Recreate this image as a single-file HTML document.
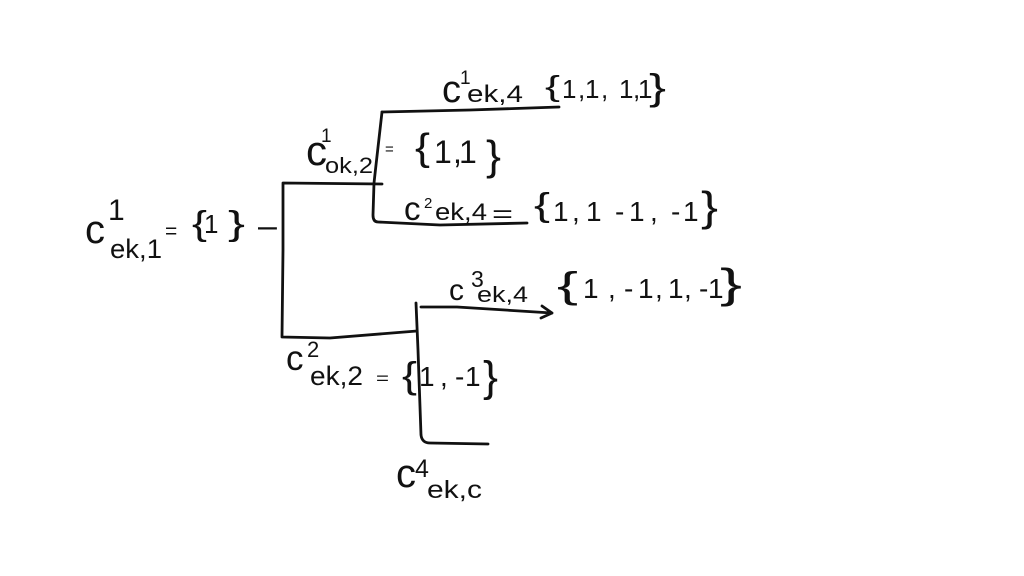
<!DOCTYPE html>
<html><head><meta charset="utf-8"><style>
html,body{margin:0;padding:0;background:#fff}
svg{display:block}
text{font-family:"Liberation Sans",sans-serif;fill:#111}
path{fill:none;stroke:#111;stroke-width:2.8;stroke-linecap:round;stroke-linejoin:round}
</style></head><body>
<svg width="1024" height="576" viewBox="0 0 1024 576" xmlns="http://www.w3.org/2000/svg">
<rect width="1024" height="576" fill="#fff" style="stroke:none"/>
<path d="M382 112 L470 110 L559 107"/>
<path d="M382 112 L376 165 L374 183 L373 215 Q373 222 378 222 L440 225 L527 223"/>
<path d="M382 184 L283 183 L283 250 L282 337 L330 338 L417 331"/>
<path d="M416 303 L418 350 L421 435 Q422 443 430 443 L488 444"/>
<path d="M421 307 L457 307 L552 313 M542 306 L552 313 L541 318"/>

<text x="85" y="243" font-size="40">c</text>
<text x="108" y="220" font-size="30">1</text>
<text x="110" y="258" font-size="27" textLength="52" lengthAdjust="spacingAndGlyphs">ek,1</text>
<text x="165" y="238" font-size="21">=</text>
<text x="192" y="235" font-size="34" textLength="15" lengthAdjust="spacingAndGlyphs">{</text>
<text x="204" y="233" font-size="26">1</text>
<text x="228" y="235" font-size="34" textLength="17" lengthAdjust="spacingAndGlyphs">}</text>
<text x="258" y="237" font-size="34">–</text>

<text x="442" y="102" font-size="38">c</text>
<text x="460" y="84" font-size="19">1</text>
<text x="467" y="102" font-size="24" textLength="56" lengthAdjust="spacingAndGlyphs">ek,4</text>
<text x="545" y="96" font-size="29" textLength="15" lengthAdjust="spacingAndGlyphs">{</text>
<text x="562 578 585 601 619 633 638" y="98" font-size="26">1,1,1,1</text>
<text x="649" y="100" font-size="37" textLength="17" lengthAdjust="spacingAndGlyphs">}</text>

<text x="306" y="165" font-size="42">c</text>
<text x="321" y="142" font-size="19">1</text>
<text x="325" y="173" font-size="22" textLength="48" lengthAdjust="spacingAndGlyphs">ok,2</text>
<text x="385" y="154" font-size="15">=</text>
<text x="415" y="160" font-size="38" textLength="15" lengthAdjust="spacingAndGlyphs">{</text>
<text x="434 453 459" y="163" font-size="32">1,1</text>
<text x="486" y="170" font-size="42" textLength="15" lengthAdjust="spacingAndGlyphs">}</text>

<text x="404" y="220" font-size="33">c</text>
<text x="424" y="208" font-size="15">2</text>
<text x="435" y="220" font-size="24" textLength="52" lengthAdjust="spacingAndGlyphs">ek,4</text>
<text x="492" y="222" font-size="24" textLength="21" lengthAdjust="spacingAndGlyphs">=</text>
<text x="534" y="216" font-size="33" textLength="16" lengthAdjust="spacingAndGlyphs">{</text>
<text x="553 572 586 615 629 650 671 683" y="221" font-size="28">1,1-1,-1</text>
<text x="701" y="221" font-size="42" textLength="17" lengthAdjust="spacingAndGlyphs">}</text>

<text x="449" y="300" font-size="30">c</text>
<text x="471" y="287" font-size="23">3</text>
<text x="477" y="302" font-size="22" textLength="51" lengthAdjust="spacingAndGlyphs">ek,4</text>
<text x="557" y="298" font-size="37" textLength="21" lengthAdjust="spacingAndGlyphs">{</text>
<text x="583 608 624 638 655 668 684 699 708" y="298" font-size="28">1,-1,1,-1</text>
<text x="720" y="298" font-size="42" textLength="22" lengthAdjust="spacingAndGlyphs">}</text>

<text x="286" y="370" font-size="35">c</text>
<text x="307" y="357" font-size="22">2</text>
<text x="310" y="385" font-size="27" textLength="53" lengthAdjust="spacingAndGlyphs">ek,2</text>
<text x="376" y="384" font-size="17" textLength="13" lengthAdjust="spacingAndGlyphs">=</text>
<text x="402" y="388" font-size="37" textLength="15" lengthAdjust="spacingAndGlyphs">{</text>
<text x="419 440 455 465" y="386" font-size="28">1,-1</text>
<text x="483" y="391" font-size="43" textLength="15" lengthAdjust="spacingAndGlyphs">}</text>

<text x="396" y="487" font-size="40">c</text>
<text x="415" y="477" font-size="25">4</text>
<text x="427" y="498" font-size="25" textLength="55" lengthAdjust="spacingAndGlyphs">ek,c</text>
</svg>
</body></html>
